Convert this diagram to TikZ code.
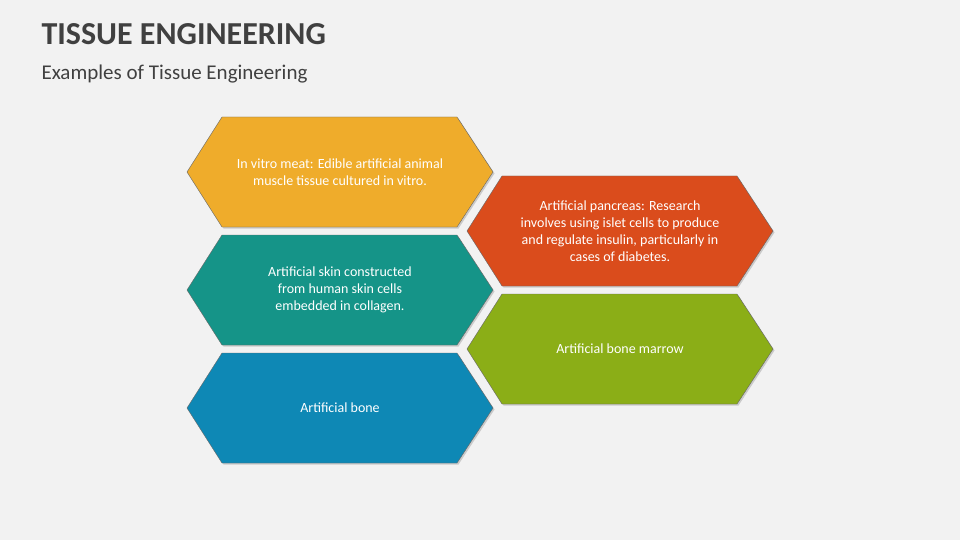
\documentclass[tikz,border=0pt]{standalone}
\usepackage{fontspec}
\setmainfont{Carlito}
\usetikzlibrary{shadows}
\definecolor{bg}{HTML}{F2F2F2}
\definecolor{ttl}{HTML}{404040}
\definecolor{cOr}{HTML}{EFAC2B}
\definecolor{cRd}{HTML}{DA4C1C}
\definecolor{cTl}{HTML}{159488}
\definecolor{cBl}{HTML}{0E88B5}
\definecolor{cGr}{HTML}{8BAE17}
\tikzset{hex/.style={draw=black!60,line width=0.4pt,drop shadow={shadow xshift=1.5pt,shadow yshift=-1.5pt,opacity=0.35}},
 htext/.style={text=white,align=center,font=\fontsize{14}{17}\selectfont}}
\newcommand{\hexat}[4]{% cx, cy, color, name
 \path[hex,fill=#3] (#1-153,#2) -- (#1-118,#2-55) -- (#1+117,#2-55) -- (#1+153,#2) -- (#1+117,#2+55) -- (#1-118,#2+55) -- cycle;
 \coordinate (#4) at (#1,#2);}
\begin{document}
\begin{tikzpicture}[x=1pt,y=-1pt]
\fill[bg] (0,0) rectangle (960,540);
\useasboundingbox (0,0) rectangle (960,540);
\node[anchor=west,text=ttl,font=\fontsize{32}{36}\bfseries\selectfont] (title) at (38,34) {TISSUE ENGINEERING};
\node[anchor=west,text=ttl,font=\fontsize{21}{24}\selectfont] (sub) at (38,74) {Examples of Tissue Engineering};
\hexat{340}{172}{cOr}{h1}
\hexat{620}{231}{cRd}{h2}
\hexat{340}{290}{cTl}{h3}
\hexat{620}{349}{cGr}{h4}
\hexat{340}{408}{cBl}{h5}
\node[htext] (t1) at (h1) {In vitro meat: Edible artificial animal\\muscle tissue cultured in vitro.};
\node[htext] (t2) at (h2) {Artificial pancreas: Research\\involves using islet cells to produce\\and regulate insulin, particularly in\\cases of diabetes.};
\node[htext] (t3) at (h3) {Artificial skin constructed\\from human skin cells\\embedded in collagen.};
\node[htext] (t4) at (h4) {Artificial bone marrow};
\node[htext] (t5) at (h5) {Artificial bone};
\end{tikzpicture}
\end{document}
